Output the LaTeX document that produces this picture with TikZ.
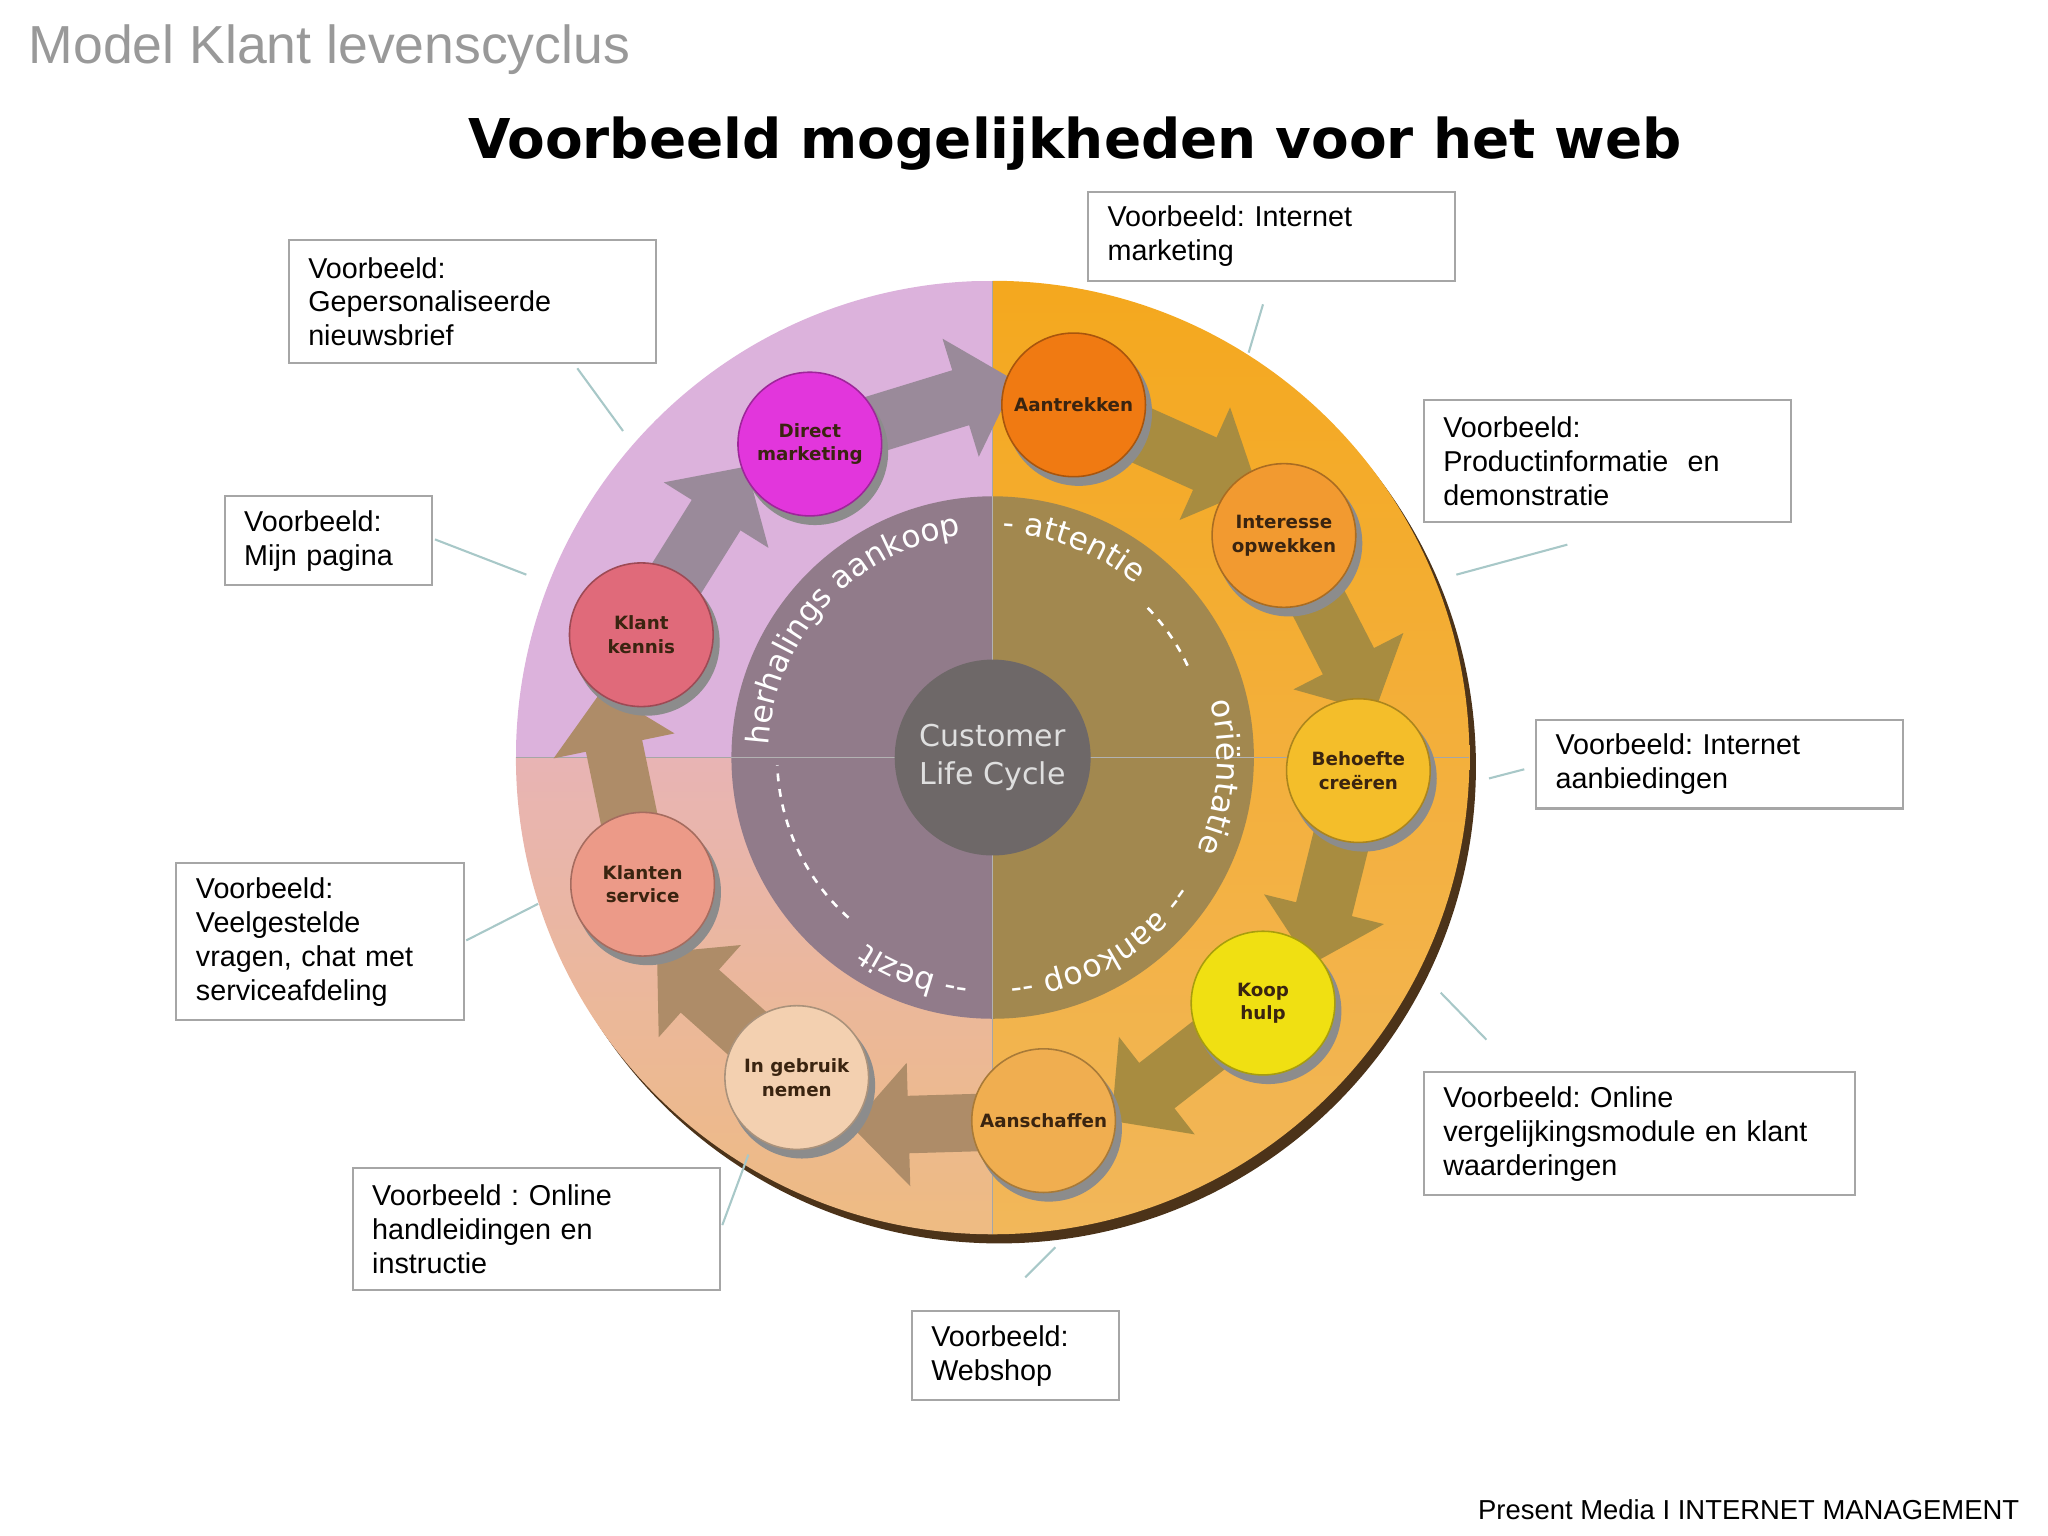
\documentclass[tikz,border=0pt]{standalone}
\usepackage{fontspec}
\setmainfont{Liberation Sans}
\newfontfamily\dvs{DejaVu Sans}
\usetikzlibrary{calc,arrows.meta,decorations.text}
\frenchspacing
\definecolor{lav}{HTML}{DCB2DC}
\definecolor{orA}{HTML}{F4A81E}
\definecolor{orB}{HTML}{F2B75A}
\definecolor{pcA}{HTML}{E8B4B4}
\definecolor{pcB}{HTML}{EEBB82}
\definecolor{inL}{HTML}{917B8A}
\definecolor{inR}{HTML}{A2884F}
\definecolor{ctr}{HTML}{6E6868}
\definecolor{arP}{HTML}{9A8A9A}
\definecolor{arO}{HTML}{A88C40}
\definecolor{arB}{HTML}{AE8C68}
\definecolor{lbl}{HTML}{3A2410}
\definecolor{conn}{HTML}{A8C8C8}
\definecolor{cDM}{HTML}{E236DC}
\definecolor{cAT}{HTML}{F07A12}
\definecolor{cIO}{HTML}{F29A30}
\definecolor{cBC}{HTML}{F4BE2A}
\definecolor{cKH}{HTML}{F0E012}
\definecolor{cAS}{HTML}{F0AE50}
\definecolor{cIG}{HTML}{F3D0B0}
\definecolor{cKS}{HTML}{EC9A88}
\definecolor{cKK}{HTML}{E06A7A}
\tikzset{
 stage/.style={circle, minimum size=55pt, inner sep=0pt, draw=#1!70!black, fill=#1, line width=0.6pt, align=center, text=lbl, font=\dvs\bfseries\fontsize{7}{9}\selectfont},
 blockarr/.style={line width=22pt, draw=#1, -{Triangle[length=22pt,width=46pt]}},
 ex/.style={draw=gray!70, fill=white, line width=0.8pt, align=left, inner sep=0pt, font=\fontsize{11}{13}\selectfont},
 conline/.style={draw=conn, line width=0.8pt}
}
\begin{document}
\begin{tikzpicture}[x=0.5pt,y=0.5pt]
\useasboundingbox (0,0) rectangle (1568,1176);
\coordinate (C) at (760,596);
% outer disc
\fill[black!60!brown] ($(C)+(5,-7)$) circle (365);
\begin{scope}
\clip (C) circle (365);
\fill[lav] (395,596) rectangle (760,961);
\shade[top color=orA, bottom color=orB] (760,231) rectangle (1125,961);
\shade[top color=pcA, bottom color=pcB] (395,231) rectangle (760,596);
\end{scope}
\draw[gray!70, line width=0.6pt] (760,231) -- (760,961) (395,596) -- (1125,596);
% inner disc
\begin{scope}
\clip (C) circle (200);
\fill[inL] (560,396) rectangle (760,796);
\fill[inR] (760,396) rectangle (960,796);
\end{scope}
\draw[gray!60, line width=0.6pt] (760,396) -- (760,796) (560,596) -- (960,596);
\fill[ctr] (C) circle (75);
\node[text=gray!25, align=center, font=\dvs\fontsize{11.5}{14.5}\selectfont] (ctrl) at (C) {Customer\\Life Cycle};
% ring text
\tikzset{ringtxt/.style={decorate, decoration={text along path, text align=center, text color=white, text={|\dvs\fontsize{12}{12}\selectfont|#1}}}}
\path[ringtxt={herhalings aankoop}] ($(C)+(180:172)$) arc[start angle=180, end angle=95, radius=172];
\path[ringtxt={- attentie}] ($(C)+(93:172)$) arc[start angle=93, end angle=45, radius=172];
\path[ringtxt={oriëntatie}] ($(C)+(22:172)$) arc[start angle=22, end angle=-32, radius=172];
\path[ringtxt={-- aankoop --}] ($(C)+(-30:172)$) arc[start angle=-30, end angle=-90, radius=172];
\path[ringtxt={-- bezit}] ($(C)+(-90:172)$) arc[start angle=-90, end angle=-130, radius=172];
\draw[white, dashed, line width=1pt] ($(C)+(44:165)$) arc[start angle=44, end angle=24, radius=165];
\draw[white, dashed, line width=1pt] ($(C)+(-132:165)$) arc[start angle=-132, end angle=-178, radius=165];
% stage coordinates
\coordinate (pDM) at (620,836);
\coordinate (pAT) at (822,866);
\coordinate (pIO) at (983,766);
\coordinate (pBC) at (1040,586);
\coordinate (pKH) at (967,408);
\coordinate (pAS) at (799,318);
\coordinate (pIG) at (610,351);
\coordinate (pKS) at (492,499);
\coordinate (pKK) at (491,690);
% arrows
\draw[blockarr=arP] (pDM) -- ($(pDM)!0.78!(pAT)+(0,25)$);
\draw[blockarr=arO] (pAT) -- ($(pAT)!0.78!(pIO)+(15,15)$);
\draw[blockarr=arO] (pIO) -- ($(pIO)!0.78!(pBC)+(25,5)$);
\draw[blockarr=arO] (pBC) -- ($(pBC)!0.78!(pKH)+(20,-10)$);
\draw[blockarr=arO] (pKH) -- ($(pKH)!0.78!(pAS)+(15,-20)$);
\draw[blockarr=arB] (pAS) -- ($(pAS)!0.78!(pIG)+(0,-30)$);
\draw[blockarr=arB] (pIG) -- ($(pIG)!0.78!(pKS)+(-15,-20)$);
\draw[blockarr=arB] (pKS) -- ($(pKS)!0.78!(pKK)+(-30,0)$);
\draw[blockarr=arP] (pKK) -- ($(pKK)!0.78!(pDM)+(-20,15)$);
% stages
\foreach \p in {DM,AT,IO,BC,KH,AS,IG,KS,KK}{\fill[black!45] ($(p\p)+(4,-6)$) circle (56);}
\node[stage=cDM] (DM) at (pDM) {Direct\\marketing};
\node[stage=cAT] (AT) at (pAT) {Aantrekken};
\node[stage=cIO] (IO) at (pIO) {Interesse\\opwekken};
\node[stage=cBC] (BC) at (pBC) {Behoefte\\creëren};
\node[stage=cKH] (KH) at (pKH) {Koop\\hulp};
\node[stage=cAS] (AS) at (pAS) {Aanschaffen};
\node[stage=cIG] (IG) at (pIG) {In gebruik\\nemen};
\node[stage=cKS] (KS) at (pKS) {Klanten\\service};
\node[stage=cKK] (KK) at (pKK) {Klant\\kennis};
% titles
\node[anchor=west, text=gray!80, font=\fontsize{20.5}{24}\selectfont] (hdr) at (15,1138) {Model Klant levenscyclus};
\node[font=\dvs\bfseries\fontsize{21}{24}\selectfont] (ttl) at (823,1066) {Voorbeeld mogelijkheden voor het web};
\node[anchor=east, font=\fontsize{10.5}{12}\selectfont] (ftr) at (1553,20) {Present Media I INTERNET MANAGEMENT};
% boxes
\node[ex, minimum width=140.5pt, minimum height=47pt, text width=125.5pt] (b1) at (361.5,945) {Voorbeeld:\\Gepersonaliseerde\\nieuwsbrief};
\node[ex, minimum width=140.5pt, minimum height=34pt, text width=125.5pt] (b2) at (973.5,995) {Voorbeeld: Internet\\marketing};
\node[ex, minimum width=140.5pt, minimum height=47pt, text width=125.5pt] (b3) at (1230.5,823) {Voorbeeld:\\Productinformatie\ \ en\\demonstratie};
\node[ex, minimum width=79.5pt, minimum height=34pt, text width=64.5pt] (b4) at (251.5,762) {Voorbeeld:\\Mijn pagina};
\node[ex, minimum width=140.5pt, minimum height=34pt, text width=125.5pt] (b5) at (1316.5,591) {Voorbeeld: Internet\\aanbiedingen};
\node[ex, minimum width=110pt, minimum height=60pt, text width=95pt] (b6) at (245,455) {Voorbeeld:\\Veelgestelde\\vragen, chat met\\serviceafdeling};
\node[ex, minimum width=165pt, minimum height=47pt, text width=150pt] (b7) at (1255,308) {Voorbeeld: Online\\vergelijkingsmodule en klant\\waarderingen};
\node[ex, minimum width=140.5pt, minimum height=47pt, text width=125.5pt] (b8) at (410.5,235) {Voorbeeld : Online\\handleidingen en\\instructie};
\node[ex, minimum width=79.5pt, minimum height=34pt, text width=64.5pt] (b9) at (777.5,138) {Voorbeeld:\\Webshop};
% connectors
\coordinate (c1a) at (442,894); \coordinate (c1b) at (477,846);
\coordinate (c2a) at (967,943); \coordinate (c2b) at (956,906);
\coordinate (c3a) at (1200,759); \coordinate (c3b) at (1115,736);
\coordinate (c4a) at (333,763); \coordinate (c4b) at (403,736);
\coordinate (c5a) at (1167,587); \coordinate (c5b) at (1140,580);
\coordinate (c6a) at (357,456); \coordinate (c6b) at (412,484);
\coordinate (c7a) at (1103,416); \coordinate (c7b) at (1138,380);
\coordinate (c8a) at (553,238); \coordinate (c8b) at (573,292);
\coordinate (c9a) at (785,198); \coordinate (c9b) at (808,221);
\foreach \i in {1,...,9}{\draw[conline] (c\i a) -- (c\i b);}
\end{tikzpicture}
\end{document}
